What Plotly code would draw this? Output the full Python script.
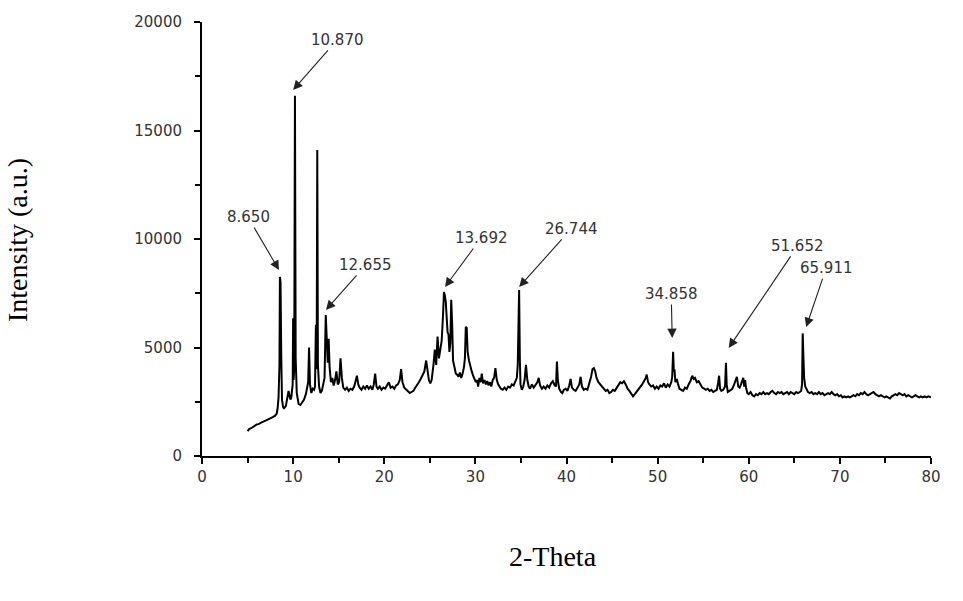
import plotly.graph_objects as go

# ---- data ----
two_theta_a = [5.0, 5.2, 5.4, 5.6, 5.8, 6.0, 6.2, 6.4, 6.6, 6.8, 7.0, 7.2, 7.4, 7.6, 7.8, 8.0, 8.2, 8.3, 8.4, 8.5,
               8.55, 8.62, 8.7, 8.78, 8.9, 9.0, 9.2, 9.4, 9.5, 9.6, 9.7, 9.8, 9.95, 10.0, 10.05, 10.12, 10.2, 10.28, 10.4, 10.6, 10.8]
intensity_a = [1150, 1250, 1280, 1350, 1380, 1450, 1470, 1530, 1560, 1600, 1650, 1680, 1720, 1760, 1800, 1850, 1950, 2200, 2700, 4200,
               8250, 8000, 4500, 2600, 2250, 2200, 2300, 2700, 3000, 2800, 2600, 2700, 3300, 6350, 3500, 4000, 16600, 4500, 2900, 2400, 2350]

two_theta_b = [11.0, 11.2, 11.4, 11.55, 11.65, 11.75, 11.85, 12.0, 12.15, 12.3, 12.4, 12.5, 12.58, 12.65, 12.72, 12.85, 13.0, 13.15, 13.3, 13.45,
               13.58, 13.68, 13.8, 13.9, 14.0, 14.15, 14.3, 14.45, 14.6, 14.75, 14.9, 15.05, 15.2, 15.35, 15.5, 15.7, 15.9, 16.1, 16.3, 16.5]
intensity_b = [2500, 2600, 2850, 3100, 3400, 5000, 3300, 2900, 3100, 3050, 3200, 6050, 4000, 14100, 4200, 3200, 2900, 3000, 3300, 3600,
               6500, 5200, 4300, 5400, 4100, 3400, 3600, 3250, 3500, 3900, 3300, 3400, 4500, 3600, 3150, 3050, 3150, 3000, 3100, 3050]

two_theta_c = [16.7, 16.85, 17.0, 17.15, 17.3, 17.5, 17.7, 17.9, 18.1, 18.3, 18.5, 18.7, 18.85, 19.0, 19.15, 19.3, 19.5, 19.7, 19.9, 20.1,
               20.3, 20.5, 20.7, 20.9, 21.1, 21.3, 21.5, 21.7, 21.85, 22.0, 22.2, 22.4, 22.6, 22.8, 23.0, 23.2, 23.4, 23.6, 23.8, 24.0,
               24.2, 24.4, 24.6, 24.75, 24.9, 25.05, 25.2, 25.4, 25.55, 25.7, 25.85, 26.0, 26.15, 26.3, 26.45]
intensity_c = [3200, 3450, 3700, 3300, 3150, 3050, 3200, 3100, 3250, 3100, 3200, 3050, 3300, 3800, 3200, 3100, 3200, 3050, 3150, 3100,
               3250, 3400, 3150, 3200, 3100, 3250, 3300, 3500, 4000, 3400, 3150, 3050, 3000, 2900, 2950, 3000, 3150, 3250, 3400, 3550,
               3700, 3900, 4400, 3900, 3500, 3350, 3500, 4200, 4900, 4200, 5500, 4500, 5000, 5300, 6500]

two_theta_d = [26.55, 26.65, 26.75, 26.85, 26.95, 27.05, 27.15, 27.25, 27.35, 27.45, 27.55, 27.7, 27.85, 28.0, 28.15, 28.3, 28.45, 28.6, 28.75, 28.85,
               28.95, 29.05, 29.15, 29.3, 29.45, 29.6, 29.75, 29.9, 30.05, 30.2, 30.3, 30.45, 30.6, 30.7, 30.85, 31.0, 31.15, 31.3, 31.45, 31.6,
               31.75, 31.9, 32.05, 32.2, 32.35, 32.5, 32.65, 32.8, 33.0, 33.2, 33.4, 33.6, 33.8, 34.0, 34.2, 34.4, 34.55, 34.65, 34.72, 34.8,
               34.88, 34.95, 35.1, 35.25, 35.4, 35.55, 35.7, 35.85, 36.0, 36.2, 36.4, 36.6, 36.8, 36.95, 37.1, 37.3, 37.5, 37.7, 37.9, 38.1]
intensity_d = [7560, 7400, 7100, 6400, 5700, 5600, 4800, 5200, 7200, 6100, 4400, 4100, 3800, 3750, 3650, 3850, 3600, 3800, 4100, 4500,
               5950, 5900, 4800, 4400, 4100, 3900, 3700, 3550, 3400, 3500, 3200, 3600, 3400, 3800, 3350, 3500, 3300, 3450, 3250, 3400,
               3200, 3500, 3600, 4050, 3500, 3300, 3200, 3100, 3050, 3150, 3050, 3200, 3150, 3300, 3250, 3450, 3600, 4200, 5800, 7650,
               4500, 3300, 3050, 3200, 3500, 4200, 3500, 3200, 3100, 3300, 3150, 3250, 3400, 3600, 3250, 3100, 3200, 3100, 3250, 3150]

two_theta_e = [38.3, 38.5, 38.7, 38.85, 38.95, 39.05, 39.2, 39.4, 39.55, 39.7, 39.9, 40.1, 40.3, 40.45, 40.6, 40.8, 41.0, 41.2, 41.4, 41.55,
               41.7, 41.9, 42.1, 42.3, 42.5, 42.7, 42.85, 43.0, 43.15, 43.3, 43.5, 43.7, 43.9, 44.1, 44.3, 44.5, 44.7, 44.9, 45.1, 45.3,
               45.5, 45.7, 45.9, 46.1, 46.3, 46.5, 46.7, 46.9, 47.1, 47.3, 47.5, 47.7, 47.9, 48.1, 48.3, 48.5, 48.7, 48.8, 48.95, 49.1,
               49.3, 49.5, 49.7, 49.9, 50.1, 50.3, 50.5, 50.7, 50.9, 51.1, 51.3, 51.5, 51.6, 51.7, 51.78, 51.85, 51.95, 52.1, 52.25, 52.4]
intensity_e = [3350, 3450, 3250, 3200, 4350, 3500, 3100, 2950, 2900, 3050, 3100, 3000, 3250, 3550, 3150, 3050, 3000, 3150, 3300, 3650,
               3200, 3050, 3100, 3050, 3300, 3650, 4000, 4050, 3900, 3600, 3400, 3300, 3200, 3100, 3000, 3050, 2900, 2950, 3050, 3000,
               3150, 3250, 3400, 3350, 3450, 3300, 3100, 3000, 2900, 2750, 2850, 2950, 3100, 3200, 3300, 3450, 3600, 3750, 3400, 3300,
               3200, 3250, 3100, 3200, 3100, 3250, 3200, 3350, 3150, 3300, 3200, 3400, 3650, 4800, 3900, 4000, 3400, 3550, 3300, 3100]

two_theta_f = [52.6, 52.8, 53.0, 53.2, 53.4, 53.6, 53.8, 53.95, 54.1, 54.3, 54.5, 54.7, 54.9, 55.1, 55.3, 55.5, 55.7, 55.9, 56.1, 56.3,
               56.5, 56.65, 56.75, 56.85, 57.0, 57.2, 57.4, 57.5, 57.58, 57.7, 57.85, 58.0, 58.2, 58.4, 58.55, 58.7, 58.85, 59.0, 59.15, 59.3,
               59.4, 59.5, 59.6, 59.7, 59.85, 60.0, 60.2, 60.4, 60.6, 60.8, 61.0, 61.2, 61.4, 61.6, 61.8, 62.0, 62.2, 62.4, 62.6, 62.8,
               63.0, 63.2, 63.4, 63.6, 63.8, 64.0, 64.2, 64.4, 64.6, 64.8, 65.0, 65.2, 65.4, 65.6, 65.75, 65.85, 65.92, 66.0, 66.08, 66.2]
intensity_f = [3050, 3000, 3150, 3100, 3300, 3450, 3700, 3550, 3600, 3400, 3450, 3300, 3150, 3100, 3050, 3100, 3000, 3050, 2950, 3000,
               3050, 3400, 3700, 3100, 3000, 3050, 3200, 4300, 3300, 2950, 3000, 3050, 3100, 3300, 3500, 3650, 3200, 3150, 3300, 3550,
               3600, 3200, 3500, 3150, 2900, 2850, 2950, 2800, 2750, 2850, 2800, 2900, 2850, 2950, 2850, 2900, 2850, 2950, 3000, 2900,
               2850, 2950, 2900, 2950, 2850, 2900, 2950, 2850, 2950, 2900, 2850, 2950, 2900, 2950, 3000, 3300, 5650, 4550, 3600, 3200]

two_theta_g = [66.35, 66.5, 66.7, 66.9, 67.1, 67.3, 67.5, 67.7, 67.9, 68.1, 68.3, 68.5, 68.7, 68.9, 69.1, 69.3, 69.5, 69.7, 69.9, 70.1,
               70.3, 70.5, 70.7, 70.9, 71.1, 71.3, 71.5, 71.7, 71.9, 72.1, 72.3, 72.5, 72.7, 72.9, 73.1, 73.3, 73.5, 73.7, 73.9, 74.1,
               74.3, 74.5, 74.7, 74.9, 75.1, 75.3, 75.5, 75.7, 75.9, 76.1, 76.3, 76.5, 76.7, 76.9, 77.1, 77.3, 77.5, 77.7, 77.9, 78.1,
               78.3, 78.5, 78.7, 78.9, 79.1, 79.3, 79.5, 79.7, 79.9, 80.0]
intensity_g = [3050, 2950, 2900, 2950, 2850, 2900, 2850, 2950, 2850, 2900, 2800, 2850, 2900, 2850, 2950, 2850, 2800, 2850, 2750, 2800,
               2700, 2750, 2700, 2750, 2700, 2750, 2800, 2750, 2850, 2800, 2900, 2850, 2950, 2850, 2800, 2850, 2900, 2950, 2850, 2800,
               2750, 2800, 2750, 2700, 2750, 2700, 2650, 2750, 2800, 2850, 2800, 2900, 2850, 2800, 2850, 2750, 2800, 2750, 2700, 2750,
               2800, 2750, 2700, 2750, 2700, 2750, 2700, 2750, 2700, 2700]

peak_labels = ["8.650", "10.870", "12.655", "13.692", "26.744", "34.858", "51.652", "65.911"]
peak_x = [8.45, 10.0, 13.6, 26.67, 34.8, 51.6, 57.8, 66.3]
peak_y = [8570, 16870, 6730, 7790, 7790, 5440, 4980, 5940]

x_ticks = [0, 10, 20, 30, 40, 50, 60, 70, 80]
y_ticks = [0, 5000, 10000, 15000, 20000]
x_title = "2-Theta"
y_title = "Intensity (a.u.)"

segments_x = [two_theta_a, two_theta_b, two_theta_c, two_theta_d, two_theta_e, two_theta_f, two_theta_g]
segments_y = [intensity_a, intensity_b, intensity_c, intensity_d, intensity_e, intensity_f, intensity_g]
two_theta, intensity = [], []
for sx, sy in zip(segments_x, segments_y):
    assert len(sx) == len(sy), (sx[0], len(sx), len(sy))
    two_theta += sx
    intensity += sy

fig = go.Figure()
fig.add_trace(go.Scatter(x=two_theta, y=intensity, mode="lines",
                         line=dict(color="black", width=2), showlegend=False))

label_font = dict(family="DejaVu Sans, Verdana", size=15, color="#333")
offsets = [(-31, -53), (44, -50), (40, -45), (36, -49), (52, -58), (-1, -44), (69, -102), (20, -59)]
for lab, px, py, (ax, ay) in zip(peak_labels, peak_x, peak_y, offsets):
    fig.add_annotation(x=px, y=py, text=lab, showarrow=True, ax=ax, ay=ay,
                       arrowhead=2, arrowsize=1.7, arrowwidth=1.1, arrowcolor="#222",
                       font=label_font)

title_font = dict(family="Liberation Serif, Times New Roman", size=28, color="black")
fig.add_annotation(text=x_title, xref="paper", yref="paper", x=0.4815, y=-0.2327,
                   xanchor="center", yanchor="middle", showarrow=False, font=title_font)
fig.add_annotation(text=y_title, xref="paper", yref="paper", x=-0.2524, y=0.4977,
                   xanchor="center", yanchor="middle", textangle=-90, showarrow=False, font=title_font)

axis_common = dict(showline=True, linecolor="black", linewidth=2, ticks="outside",
                   ticklen=6, tickwidth=2, tickcolor="black", showgrid=False, zeroline=False,
                   tickformat="d", tickfont=label_font, automargin=False)

fig.update_xaxes(range=[0, 80], tickvals=x_ticks, **axis_common,
                 minor=dict(ticks="outside", dtick=5, ticklen=5, tickwidth=2, tickcolor="black"))
fig.update_yaxes(range=[0, 20000], tickvals=y_ticks, **axis_common, ticklabelstandoff=9,
                 minor=dict(ticks="outside", dtick=2500, ticklen=5, tickwidth=2, tickcolor="black"))

fig.update_layout(width=963, height=601, margin=dict(l=202, r=32, t=22, b=145),
                  plot_bgcolor="white", paper_bgcolor="white")

fig.write_html("out.html")
